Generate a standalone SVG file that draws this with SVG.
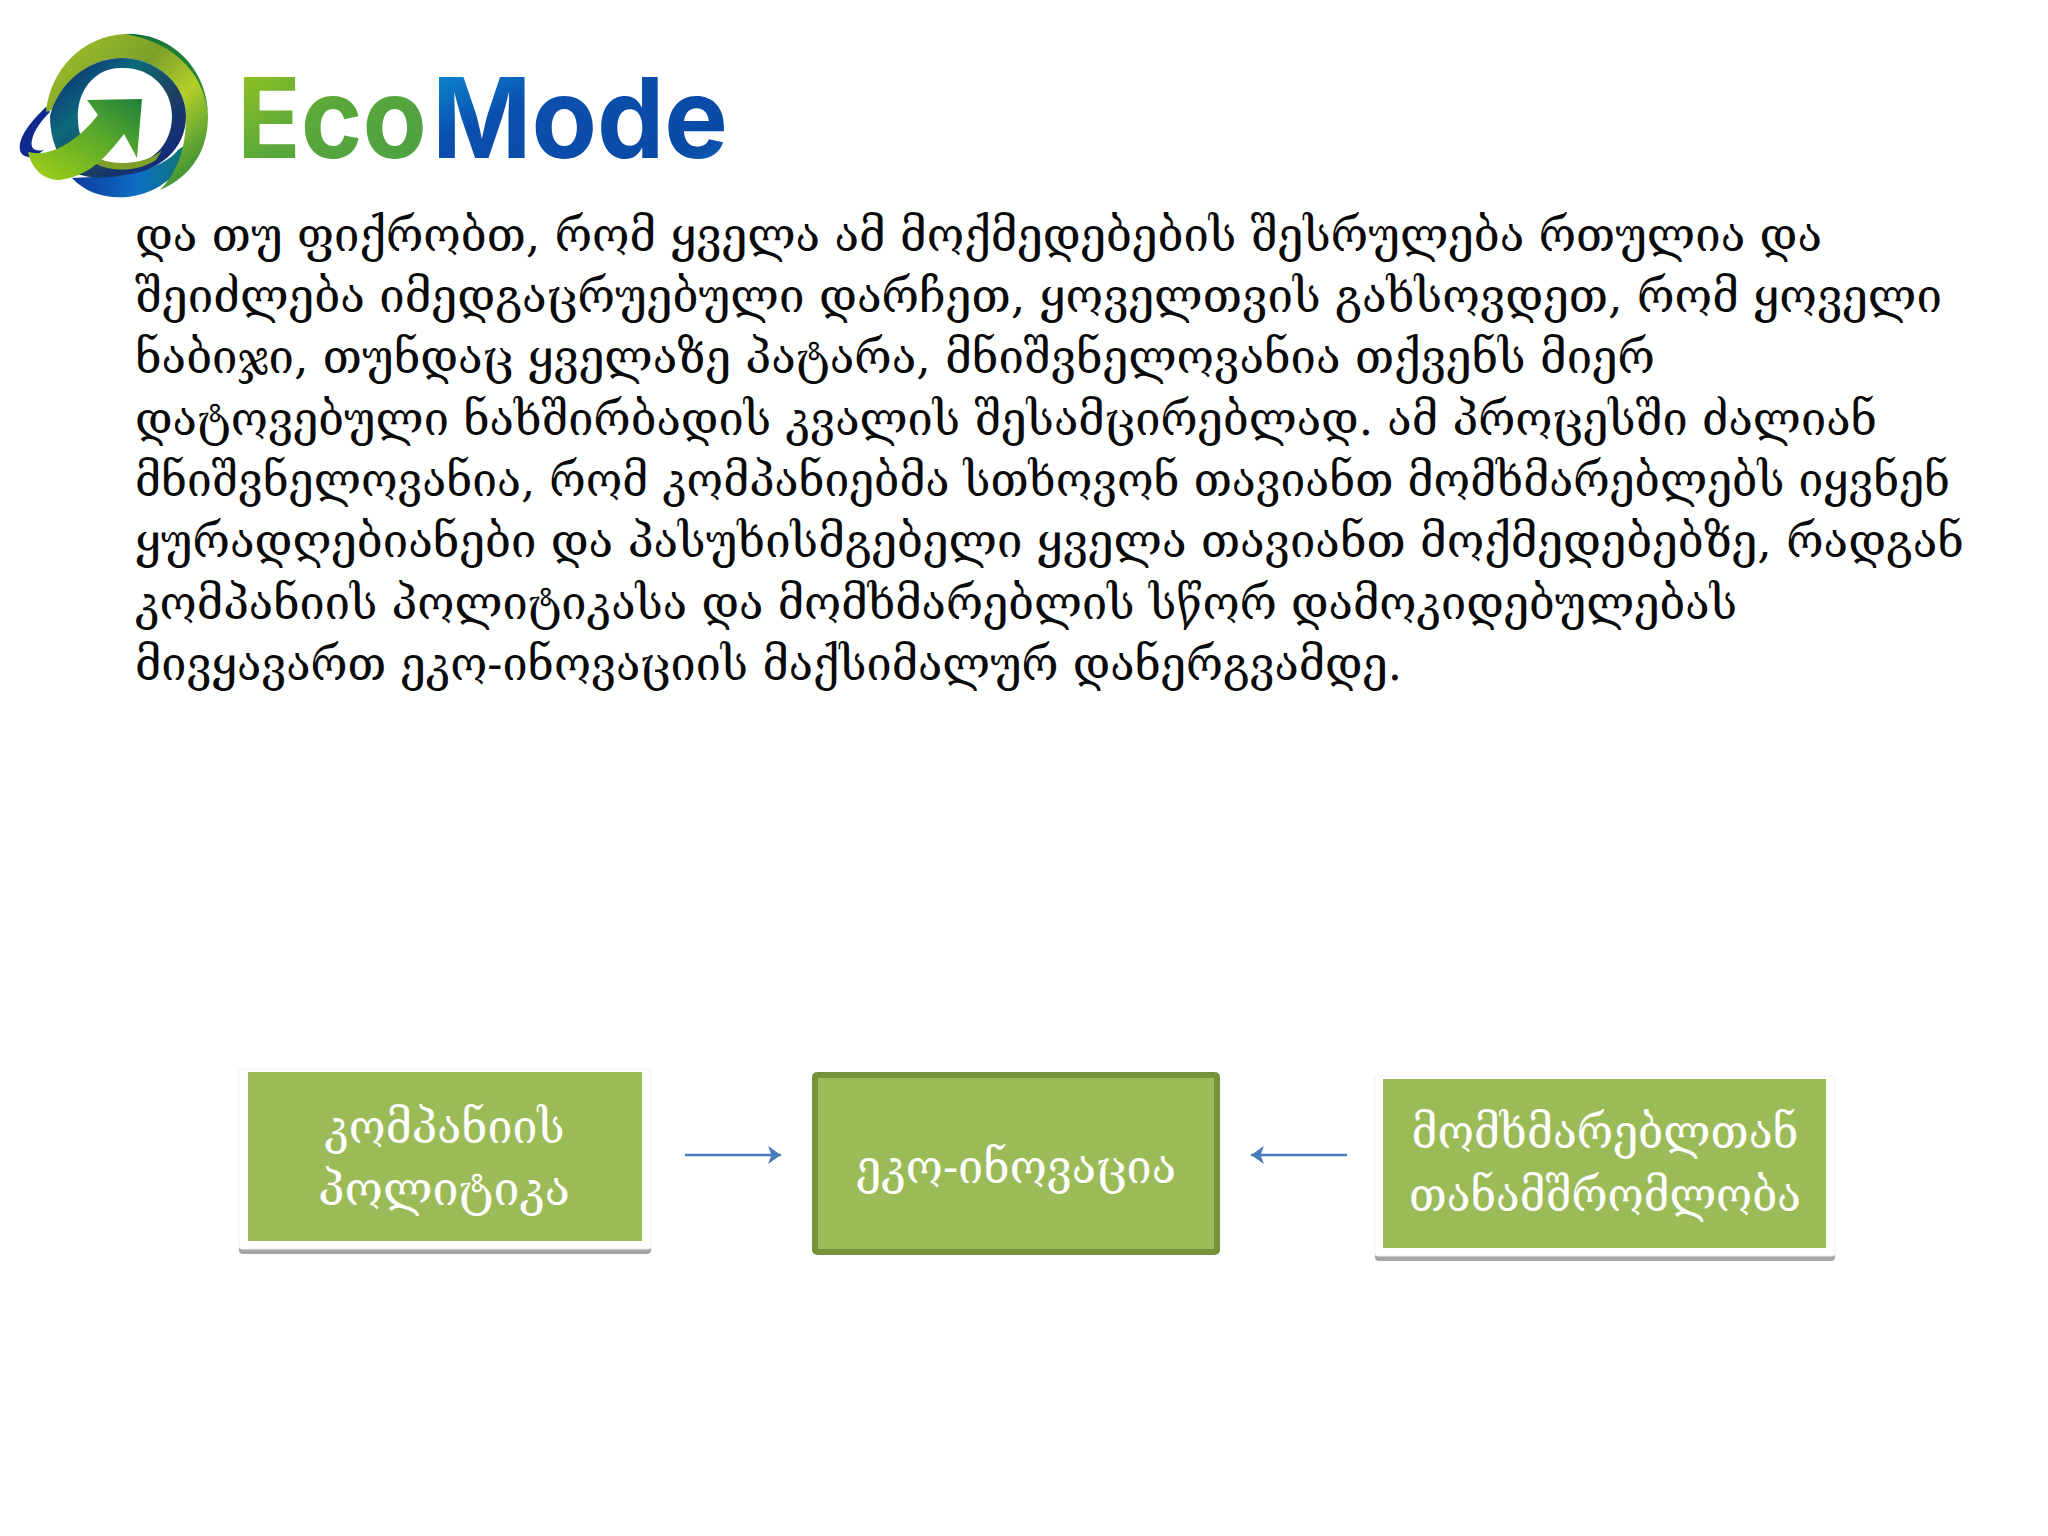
<svg xmlns="http://www.w3.org/2000/svg" width="2048" height="1536" viewBox="0 0 2048 1536">
<style>
.body{font-family:"DejaVu Serif","DejaVu Sans",sans-serif;font-size:46px;fill:#0a0a0a}
.lbl{font-family:"DejaVu Serif","DejaVu Sans",sans-serif;font-size:47px;fill:#fff;text-anchor:middle}
.green{fill:#9bbb59}
.frame{fill:#fff;stroke:#f0f0f0;stroke-width:1}
.shadow{fill:#a6a6a9}
.conn{stroke:#4a7ebb;stroke-width:2.5;fill:none;marker-end:url(#ah)}
.word{font-family:Inter,"Liberation Sans",sans-serif;font-weight:700;font-size:112px}
</style>
<defs>
<marker id="ah" markerUnits="userSpaceOnUse" markerWidth="14" markerHeight="18" refX="13" refY="9" orient="auto"><path d="M0 0L13 9L0 18L3.5 9Z" fill="#4a7ebb"/></marker>
<filter id="soft" x="-5%" y="-5%" width="110%" height="110%"><feGaussianBlur stdDeviation="0.7"/></filter>
<linearGradient id="gE" x1="0" y1="0" x2="1" y2="1"><stop offset="0" stop-color="#a3c91e"/><stop offset=".45" stop-color="#5aa83a"/><stop offset="1" stop-color="#4a9f45"/></linearGradient>
<linearGradient id="gM" x1="0" y1="0" x2="1" y2="1"><stop offset="0" stop-color="#0a9bdc"/><stop offset=".35" stop-color="#0b4fae"/><stop offset=".8" stop-color="#0a4aa6"/><stop offset="1" stop-color="#1576c4"/></linearGradient>
<linearGradient id="gR" x1="0" y1="0" x2="1" y2="1"><stop offset="0" stop-color="#a5c52a"/><stop offset=".4" stop-color="#7d9f2a"/><stop offset=".62" stop-color="#b5cf2a"/><stop offset="1" stop-color="#0d7a3a"/></linearGradient>
<linearGradient id="gD" x1="0" y1="0" x2="1" y2="1"><stop offset="0" stop-color="#0f6d3c"/><stop offset="1" stop-color="#2f8f3a"/></linearGradient>
<linearGradient id="gB" x1="0" y1="0" x2="1" y2="1"><stop offset="0" stop-color="#0a1f7c"/><stop offset=".35" stop-color="#0e6a78"/><stop offset=".6" stop-color="#1d3f60"/><stop offset="1" stop-color="#0a1f8c"/></linearGradient>
<linearGradient id="gU" x1="0" y1="0" x2="1" y2="0"><stop offset="0" stop-color="#0a3a9c"/><stop offset=".5" stop-color="#0b6ec4"/><stop offset="1" stop-color="#0f7a4a"/></linearGradient>
<linearGradient id="gA" x1="0" y1="1" x2="1" y2="0"><stop offset="0" stop-color="#a5d116"/><stop offset=".6" stop-color="#58a82c"/><stop offset="1" stop-color="#1f7f3a"/></linearGradient>
</defs>
<rect width="2048" height="1536" fill="#fff"/>
<g id="logo">
<g filter="url(#soft)">
<path d="M46 107C30 122 18 138 20 150C21 156 28 158 34 157L44 150C34 152 30 148 32 140C34 130 42 120 50 112Z" fill="#0a2a8c"/>
<path d="M72 178C92 200 130 204 160 186C182 172 200 150 206 130L178 150C160 172 120 176 72 178Z" fill="url(#gU)"/>
<path fill-rule="evenodd" d="M125 34C172 32 208 70 208 116C208 150 192 176 160 190C178 172 186 148 186 116C186 84 156 58 122 58C92 58 70 76 62 106L46 112C50 70 82 36 125 34Z" fill="url(#gR)"/>
<path d="M125 34C172 32 208 70 208 116C206 86 190 62 162 46C150 40 138 36 125 34Z" fill="url(#gD)"/>
<path fill-rule="evenodd" d="M122 58C88 58 58 84 50 116C50 140 58 158 72 172C90 180 112 178 124 175C158 172 186 150 186 116C186 84 156 58 122 58ZM124 68C96 66 76 90 78 120C78 146 98 165 124 165C150 165 172 146 172 116C172 90 152 68 124 68Z" fill="url(#gB)"/>
<path d="M96 164C112 172 138 172 156 160L162 150C150 162 120 168 96 158Z" fill="#7d9f2a"/>
<path d="M28 152C52 158 78 140 98 115L87 100L142 99L137 158L124 134C104 160 88 176 60 180C44 180 32 170 28 152Z" fill="url(#gA)"/>
</g>
<text class="word" x="237" y="158" fill="url(#gE)" textLength="190" lengthAdjust="spacingAndGlyphs">Eco</text>
<text class="word" x="432" y="158" fill="url(#gM)" textLength="296" lengthAdjust="spacingAndGlyphs">Mode</text>
</g>
<g id="paragraph">
<text class="body" x="135" y="251" textLength="1687" lengthAdjust="spacingAndGlyphs">და თუ ფიქრობთ, რომ ყველა ამ მოქმედებების შესრულება რთულია და</text>
<text class="body" x="135" y="312" textLength="1807" lengthAdjust="spacingAndGlyphs">შეიძლება იმედგაცრუებული დარჩეთ, ყოველთვის გახსოვდეთ, რომ ყოველი</text>
<text class="body" x="135" y="373" textLength="1520" lengthAdjust="spacingAndGlyphs">ნაბიჯი, თუნდაც ყველაზე პატარა, მნიშვნელოვანია თქვენს მიერ</text>
<text class="body" x="135" y="435" textLength="1742" lengthAdjust="spacingAndGlyphs">დატოვებული ნახშირბადის კვალის შესამცირებლად. ამ პროცესში ძალიან</text>
<text class="body" x="135" y="496" textLength="1815" lengthAdjust="spacingAndGlyphs">მნიშვნელოვანია, რომ კომპანიებმა სთხოვონ თავიანთ მომხმარებლებს იყვნენ</text>
<text class="body" x="135" y="557" textLength="1829" lengthAdjust="spacingAndGlyphs">ყურადღებიანები და პასუხისმგებელი ყველა თავიანთ მოქმედებებზე, რადგან</text>
<text class="body" x="135" y="619" textLength="1602" lengthAdjust="spacingAndGlyphs">კომპანიის პოლიტიკასა და მომხმარებლის სწორ დამოკიდებულებას</text>
<text class="body" x="135" y="680" textLength="1267" lengthAdjust="spacingAndGlyphs">მივყავართ ეკო-ინოვაციის მაქსიმალურ დანერგვამდე.</text>
</g>
<g id="connectors">
<line class="conn" x1="685" y1="1155" x2="781" y2="1155"/>
<line class="conn" x1="1347" y1="1155" x2="1251" y2="1155"/>
</g>
<g id="node-policy">
<rect class="shadow" x="239" y="1240" width="412" height="14" rx="4"/>
<rect class="frame" x="239" y="1069" width="412" height="180" rx="3"/>
<rect class="green" x="248" y="1072" width="394" height="169"/>
<text class="lbl" x="444.5" y="1143" textLength="240" lengthAdjust="spacingAndGlyphs">კომპანიის</text>
<text class="lbl" x="444" y="1205" textLength="252" lengthAdjust="spacingAndGlyphs">პოლიტიკა</text>
</g>
<g id="node-innovation">
<rect class="green" x="815" y="1075" width="402" height="177" rx="2" stroke="#76923c" stroke-width="6"/>
<text class="lbl" x="1016" y="1183" textLength="320" lengthAdjust="spacingAndGlyphs">ეკო-ინოვაცია</text>
</g>
<g id="node-customers">
<rect class="shadow" x="1375" y="1247" width="460" height="14" rx="4"/>
<rect class="frame" x="1375" y="1076" width="460" height="180" rx="3"/>
<rect class="green" x="1383" y="1079" width="443" height="169"/>
<text class="lbl" x="1605" y="1148" textLength="387" lengthAdjust="spacingAndGlyphs">მომხმარებლთან</text>
<text class="lbl" x="1605" y="1211" textLength="392" lengthAdjust="spacingAndGlyphs">თანამშრომლობა</text>
</g>
</svg>
